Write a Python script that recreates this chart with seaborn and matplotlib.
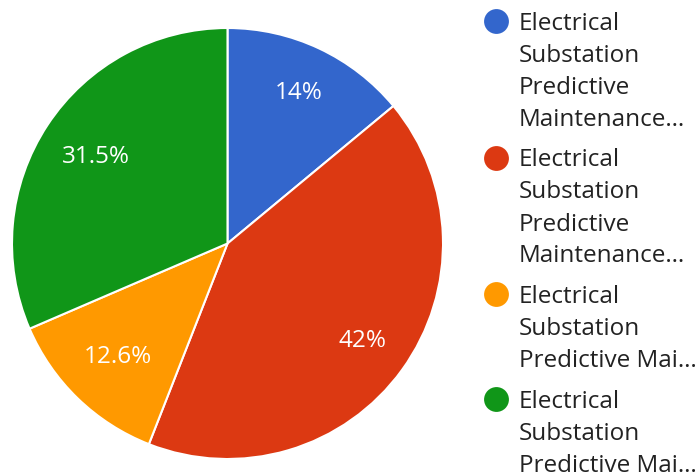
import matplotlib
matplotlib.use("Agg")
import matplotlib.pyplot as plt
import seaborn as sns
import numpy as np

sns.set_theme(style="white")
plt.rcParams['font.family'] = ['Open Sans', 'DejaVu Sans']

categories = [
    "Electrical\nSubstation\nPredictive\nMaintenance…",
    "Electrical\nSubstation\nPredictive\nMaintenance…",
    "Electrical\nSubstation\nPredictive Mai…",
    "Electrical\nSubstation\nPredictive Mai…",
]
values = [14.0, 42.0, 12.6, 31.5]
pct_labels = ["14%", "42%", "12.6%", "31.5%"]
colors = ["#3366cc", "#dc3912", "#ff9900", "#109618"]

W, H = 699, 474
fig = plt.figure(figsize=(W / 100, H / 100), dpi=100)

cx, cy, r = 227.5, 243.5, 215.5
ax = fig.add_axes([(cx - r) / W, (H - cy - r) / H, 2 * r / W, 2 * r / H])
wedges, texts = ax.pie(
    values, colors=colors, startangle=90, counterclock=False, radius=1,
    wedgeprops=dict(edgecolor="white", linewidth=1.5),
)
for w, lab in zip(wedges, pct_labels):
    th = np.deg2rad((w.theta1 + w.theta2) / 2)
    d = 0.772 - 0.021 * (len(lab) - 3)
    ax.text(d * np.cos(th), d * np.sin(th), lab, ha="center", va="center",
            color="white", fontsize=17.5)
ax.set_xlim(-1, 1)
ax.set_ylim(-1, 1)
ax.set_aspect("equal")
ax.axis("off")

# legend
pitch, gap = 32, 8.5
y = 30
lax = fig.add_axes([0, 0, 1, 1])
lax.set_xlim(0, W)
lax.set_ylim(H, 0)
lax.axis("off")
for cat, col in zip(categories, colors):
    lines = cat.split("\n")
    lax.scatter([495.5], [y - 9], s=320, color=col, marker="o", linewidths=0)
    for i, ln in enumerate(lines):
        lax.text(519, y + i * pitch, ln, ha="left", va="baseline", fontsize=17.5, color="#222222")
    y += len(lines) * pitch + gap

fig.savefig("out.png", dpi=100)
